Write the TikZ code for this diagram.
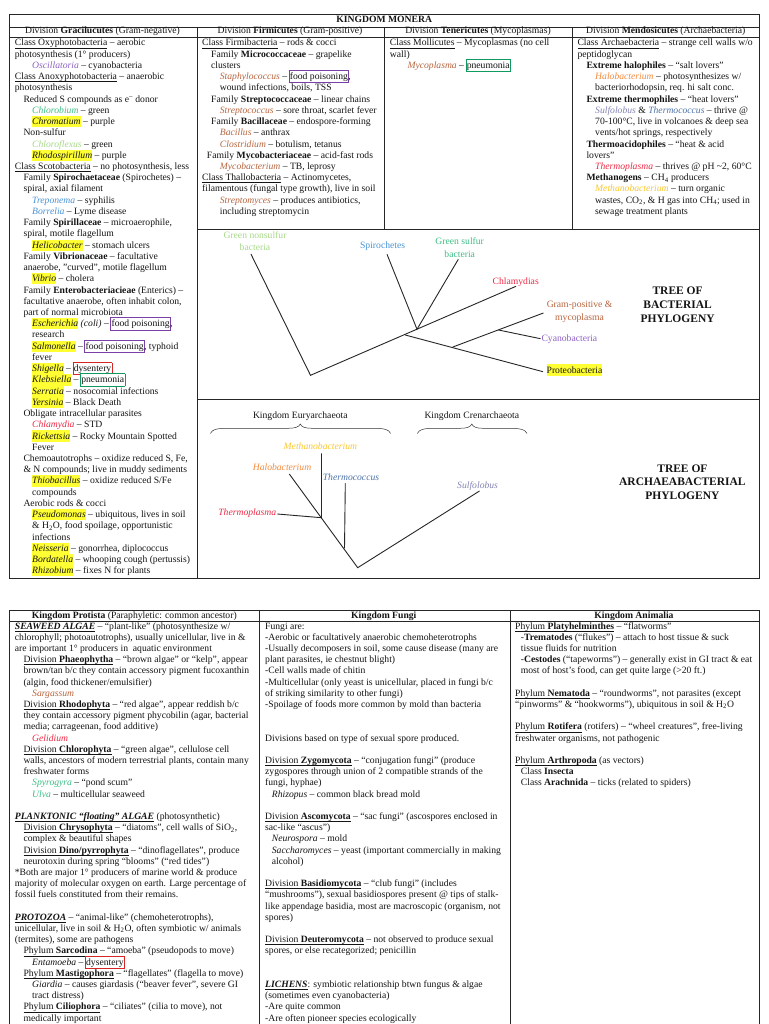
\documentclass[tikz,border=0pt]{standalone}
\usepackage{fontspec}
\setmainfont{Liberation Serif}
\definecolor{hly}{HTML}{FFFF33}
\definecolor{cPurple}{HTML}{8E62C4}
\definecolor{cTeal}{HTML}{3DBE85}
\definecolor{cLime}{HTML}{A9D98A}
\definecolor{cBlue}{HTML}{4A94D6}
\definecolor{cBrown}{HTML}{B8653F}
\definecolor{cRed}{HTML}{EE2A45}
\definecolor{cOrange}{HTML}{F58B3E}
\definecolor{cYellow}{HTML}{FBC72E}
\definecolor{cLav}{HTML}{8585B5}
\definecolor{cSlate}{HTML}{4D74A8}
\definecolor{bxP}{HTML}{7A40A8}
\definecolor{bxG}{HTML}{109A60}
\definecolor{bxR}{HTML}{D52525}
\newcounter{tln}
\newcommand\uln[1]{\setbox0\hbox{#1}\leavevmode\rlap{\rule[-2.4pt]{\wd0}{0.7pt}}\box0{}}
\newcommand\yel[1]{\setbox0\hbox{\textit{#1}}\leavevmode\rlap{\textcolor{hly}{\rule[-2.6pt]{\wd0}{11.2pt}}}\box0{}}
\newcommand\gen[2]{\textcolor{#1}{\textit{#2}}}
\newcommand\bxd[2]{\kern-0.8pt{\fboxsep=0.4pt\fboxrule=0.7pt\fcolorbox{#1}{white}{\rule{0pt}{8.4pt}\rule[-2.4pt]{0pt}{0pt}#2}}\kern-0.8pt}
\newcommand\up[3]{\stepcounter{tln}\node[tl] (t\arabic{tln}) at (#1,{46+#2*11.23}) {#3};}
\newcommand\lo[3]{\stepcounter{tln}\node[tl] (t\arabic{tln}) at (#1,{629+#2*11.2}) {#3};}
\newcommand\ct[3]{\stepcounter{tln}\node[tc] (t\arabic{tln}) at (#1,#2) {#3};}
\tikzset{
 tl/.style={anchor=base west,inner sep=0pt,font=\fontsize{9.65}{11}\selectfont,text=black!92},
 tc/.style={anchor=base,inner sep=0pt,font=\fontsize{9.65}{11}\selectfont,text=black!92},
 tt/.style={anchor=base,inner sep=0pt,font=\fontsize{11.5}{13}\selectfont\bfseries,text=black!92},
 grid line/.style={line width=0.85pt,draw=black!85},
 branch/.style={line width=0.9pt,draw=black!85,line join=miter},
 brace line/.style={line width=0.5pt,draw=black!80}
}
\begin{document}
\begin{tikzpicture}[x=1pt,y=-1pt]
\fill[white] (0,0) rectangle (768,1024);
\useasboundingbox (0,0) rectangle (768,1024);
% upper table
\draw[grid line] (9.5,14.5) rectangle (759,578);
\draw[grid line] (9.5,27) -- (759,27);
\draw[grid line] (9.5,37.5) -- (759,37.5);
\draw[grid line] (197,27) -- (197,578);
\draw[grid line] (384.5,27) -- (384.5,229);
\draw[grid line] (572.3,27) -- (572.3,229);
\draw[grid line] (197,229) -- (759,229);
\draw[grid line] (197,399.5) -- (759,399.5);
% lower table
\draw[grid line] (9.5,1024) -- (9.5,610.3) -- (759.3,610.3) -- (759.3,1024);
\draw[grid line] (9.5,621.3) -- (759.3,621.3);
\draw[grid line] (259.3,610.3) -- (259.3,1024);
\draw[grid line] (510,610.3) -- (510,1024);
% headers
\ct{384.2}{23}{\textbf{KINGDOM MONERA}}
\ct{102.5}{34}{Division \textbf{Gracilucutes} (Gram-negative)}
\ct{290}{34}{Division \textbf{Firmicutes} (Gram-positive)}
\ct{478}{34}{Division \textbf{Tenericutes} (Mycoplasmas)}
\ct{665.7}{34}{Division \textbf{Mendosicutes} (Archaebacteria)}
\ct{134.3}{618}{\textbf{Kingdom Protista} (Paraphyletic: common ancestor)}
\ct{383.8}{618}{\textbf{Kingdom Fungi}}
\ct{634}{618}{\textbf{Kingdom Animalia}}
% Gracilucutes
\up{14.7}{0}{\uln{Class Oxyphotobacteria} – aerobic}
\up{14.7}{1}{photosynthesis (1° producers)}
\up{32}{2}{\gen{cPurple}{Oscillatoria} – cyanobacteria}
\up{14.7}{3}{\uln{Class Anoxyphotobacteria} – anaerobic}
\up{14.7}{4}{photosynthesis}
\up{23.3}{5}{Reduced S compounds as e\textsuperscript{–} donor}
\up{32}{6}{\gen{cTeal}{Chlorobium} – green}
\up{32}{7}{\yel{Chromatium} – purple}
\up{23.3}{8}{Non-sulfur}
\up{32}{9}{\gen{cLime}{Chloroflexus} – green}
\up{32}{10}{\yel{Rhodospirillum} – purple}
\up{14.7}{11}{\uln{Class Scotobacteria} – no photosynthesis, less}
\up{23.3}{12}{Family \textbf{Spirochaetaceae} (Spirochetes) –}
\up{23.3}{13}{spiral, axial filament}
\up{32}{14}{\gen{cBlue}{Treponema} – syphilis}
\up{32}{15}{\gen{cBlue}{Borrelia} – Lyme disease}
\up{23.3}{16}{Family \textbf{Spirillaceae} – microaerophile,}
\up{23.3}{17}{spiral, motile flagellum}
\up{32}{18}{\yel{Helicobacter} – stomach ulcers}
\up{23.3}{19}{Family \textbf{Vibrionaceae} – facultative}
\up{23.3}{20}{anaerobe, "curved", motile flagellum}
\up{32}{21}{\yel{Vibrio} – cholera}
\up{23.3}{22}{Family \textbf{Enterobacteriacieae} (Enterics) –}
\up{23.3}{23}{facultative anaerobe, often inhabit colon,}
\up{23.3}{24}{part of normal microbiota}
\up{32}{25}{\yel{Escherichia} \textit{(coli)} – \bxd{bxP}{food poisoning},}
\up{32}{26}{research}
\up{32}{27}{\yel{Salmonella} – \bxd{bxP}{food poisoning}, typhoid}
\up{32}{28}{fever}
\up{32}{29}{\yel{Shigella} – \bxd{bxR}{dysentery}}
\up{32}{30}{\yel{Klebsiella} – \bxd{bxG}{pneumonia}}
\up{32}{31}{\yel{Serratia} – nosocomial infections}
\up{32}{32}{\yel{Yersinia} – Black Death}
\up{23.3}{33}{Obligate intracellular parasites}
\up{32}{34}{\gen{cRed}{Chlamydia} – STD}
\up{32}{35}{\yel{Rickettsia} – Rocky Mountain Spotted}
\up{32}{36}{Fever}
\up{23.3}{37}{Chemoautotrophs – oxidize reduced S, Fe,}
\up{23.3}{38}{\& N compounds; live in muddy sediments}
\up{32}{39}{\yel{Thiobacillus} – oxidize reduced S/Fe}
\up{32}{40}{compounds}
\up{23.3}{41}{Aerobic rods \& cocci}
\up{32}{42}{\yel{Pseudomonas} – ubiquitous, lives in soil}
\up{32}{43}{\& H\textsubscript{2}O, food spoilage, opportunistic}
\up{32}{44}{infections}
\up{32}{45}{\yel{Neisseria} – gonorrhea, diplococcus}
\up{32}{46}{\yel{Bordatella} – whooping cough (pertussis)}
\up{32}{47}{\yel{Rhizobium} – fixes N for plants}
% Firmicutes
\up{202}{0}{\uln{Class Firmibacteria} – rods \& cocci}
\up{211}{1}{Family \textbf{Micrococcaceae} – grapelike}
\up{211}{2}{clusters}
\up{219.7}{3}{\gen{cBrown}{Staphylococcus} – \bxd{bxP}{food poisoning},}
\up{219.7}{4}{wound infections, boils, TSS}
\up{211}{5}{Family \textbf{Streptococcaceae} – linear chains}
\up{219.7}{6}{\gen{cBrown}{Streptococcus} – sore throat, scarlet fever}
\up{211}{7}{Family \textbf{Bacillaceae} – endospore-forming}
\up{219.7}{8}{\gen{cBrown}{Bacillus} – anthrax}
\up{219.7}{9}{\gen{cBrown}{Clostridium} – botulism, tetanus}
\up{206.7}{10}{Family \textbf{Mycobacteriaceae} – acid-fast rods}
\up{219.7}{11}{\gen{cBrown}{Mycobacterium} – TB, leprosy}
\up{202}{12}{\uln{Class Thallobacteria} – Actinomycetes,}
\up{202}{13}{filamentous (fungal type growth), live in soil}
\up{219.7}{14}{\gen{cBrown}{Streptomyces} – produces antibiotics,}
\up{219.7}{15}{including streptomycin}
% Tenericutes
\up{389.7}{0}{\uln{Class Mollicutes} – Mycoplasmas (no cell}
\up{389.7}{1}{wall)}
\up{407.3}{2}{\gen{cBrown}{Mycoplasma} – \bxd{bxG}{pneumonia}}
% Mendosicutes
\up{577.3}{0}{\uln{Class Archaebacteria} – strange cell walls w/o}
\up{577.3}{1}{peptidoglycan}
\up{586.3}{2}{\textbf{Extreme halophiles} – “salt lovers”}
\up{595}{3}{\gen{cOrange}{Halobacterium} – photosynthesizes w/}
\up{595}{4}{bacteriorhodopsin, req. hi salt conc.}
\up{586.3}{5}{\textbf{Extreme thermophiles} – “heat lovers”}
\up{595}{6}{\gen{cLav}{Sulfolobus} \& \gen{cSlate}{Thermococcus} – thrive @}
\up{595}{7}{70-100°C, live in volcanoes \& deep sea}
\up{595}{8}{vents/hot springs, respectively}
\up{586.3}{9}{\textbf{Thermoacidophiles} – “heat \& acid}
\up{586.3}{10}{lovers”}
\up{595}{11}{\gen{cRed}{Thermoplasma} – thrives @ pH \textasciitilde2, 60°C}
\up{586.3}{12}{\textbf{Methanogens} – CH\textsubscript{4} producers}
\up{595}{13}{\gen{cYellow}{Methanobacterium} – turn organic}
\up{595}{14}{wastes, CO\textsubscript{2}, \& H gas into CH\textsubscript{4}; used in}
\up{595}{15}{sewage treatment plants}
% Bacterial tree
\ct{255}{238.7}{\textcolor{cLime}{Green nonsulfur}}
\ct{255}{250.7}{\textcolor{cLime}{bacteria}}
\ct{382.6}{248.7}{\textcolor{cBlue}{Spirochetes}}
\ct{459.7}{244.7}{\textcolor{cTeal}{Green sulfur}}
\ct{459.7}{257.7}{\textcolor{cTeal}{bacteria}}
\ct{515.7}{284}{\textcolor{cRed}{Chlamydias}}
\ct{579.6}{307.3}{\textcolor{cBrown}{Gram-positive \&}}
\ct{579.6}{320.3}{\textcolor{cBrown}{mycoplasma}}
\ct{569.4}{341.7}{\textcolor{cPurple}{Cyanobacteria}}
\node[tc] (proteo) at (574.5,373.3) {\setbox0\hbox{Proteobacteria}\leavevmode\rlap{\textcolor{hly}{\rule[-2.8pt]{\wd0}{11.8pt}}}\box0{}};
\node[tt] (bt1) at (677.6,294.5) {TREE OF};
\node[tt] (bt2) at (677.6,308) {BACTERIAL};
\node[tt] (bt3) at (677.6,322) {PHYLOGENY};
\coordinate (bRoot) at (310.5,375.3);
\coordinate (bGN) at (250.9,254);
\coordinate (bJ1) at (405.2,335);
\coordinate (bJ2) at (417,329.3);
\coordinate (bChl) at (516,286.3);
\coordinate (bSpi) at (387,254.3);
\coordinate (bGS) at (458.3,259.3);
\coordinate (bPro) at (543,371.7);
\coordinate (bJ3) at (452.8,347);
\coordinate (bGP) at (543.4,313);
\coordinate (bJ4) at (498.5,330);
\coordinate (bCya) at (540.5,338.7);
\draw[branch] (bGN) -- (bRoot) -- (bChl);
\draw[branch] (bSpi) -- (bJ2) -- (bGS);
\draw[branch] (bJ1) -- (bPro);
\draw[branch] (bJ3) -- (bGP);
\draw[branch] (bJ4) -- (bCya);
% Archaeal tree
\ct{300.3}{418.7}{Kingdom Euryarchaeota}
\ct{471.8}{418.7}{Kingdom Crenarchaeota}
\ct{320.4}{449}{\gen{cYellow}{Methanobacterium}}
\ct{282}{470.3}{\gen{cOrange}{Halobacterium}}
\ct{351}{480.3}{\gen{cSlate}{Thermococcus}}
\ct{477.6}{488.7}{\gen{cLav}{Sulfolobus}}
\ct{247.3}{515.7}{\gen{cRed}{Thermoplasma}}
\node[tt] (at1) at (682.4,472) {TREE OF};
\node[tt] (at2) at (682.4,485.5) {ARCHAEABACTERIAL};
\node[tt] (at3) at (682.4,499.5) {PHYLOGENY};
\coordinate (aRoot) at (357.7,567.7);
\coordinate (aSul) at (479.5,491);
\coordinate (aHal) at (289.3,474);
\coordinate (aJ1) at (344.5,548.3);
\coordinate (aThc) at (345.3,483.3);
\coordinate (aJ2) at (321.5,517.7);
\coordinate (aMet) at (321.5,453.3);
\coordinate (aThp) at (277.3,514);
\draw[branch] (aHal) -- (aRoot) -- (aSul);
\draw[branch] (aJ1) -- (aThc);
\draw[branch] (aMet) -- (aJ2) -- (aThp);
% braces
\draw[brace line] (210.4,433.5) .. controls (212,429.5) and (217,428.5) .. (224,428.3) -- (288,428.3) .. controls (295,428.3) and (299,427) .. (300.3,424) .. controls (301.6,427) and (305,428.3) .. (312,428.3) -- (377,428.3) .. controls (384,428.5) and (389,429.5) .. (390.6,433.5);
\draw[brace line] (417.3,433.5) .. controls (419,429.5) and (424,428.5) .. (431,428.3) -- (460,428.3) .. controls (467,428.3) and (470.5,427) .. (471.8,424) .. controls (473.1,427) and (476.5,428.3) .. (483,428.3) -- (513,428.3) .. controls (520,428.5) and (525.4,429.5) .. (527,433.5);
% Protista
\lo{14.7}{0}{\uln{\textbf{\textit{SEAWEED ALGAE}}} – “plant-like” (photosynthesize w/}
\lo{14.7}{1}{chlorophyll; photoautotrophs), usually unicellular, live in \&}
\lo{14.7}{2}{are important 1° producers in\ \ aquatic environment}
\lo{23.3}{3}{\uln{Division \textbf{Phaeophytha}} – “brown algae” or “kelp”, appear}
\lo{23.3}{4}{brown/tan b/c they contain accessory pigment fucoxanthin}
\lo{23.3}{5}{(algin, food thickener/emulsifier)}
\lo{32}{6}{\gen{cBrown}{Sargassum}}
\lo{23.3}{7}{\uln{Division \textbf{Rhodophyta}} – “red algae”, appear reddish b/c}
\lo{23.3}{8}{they contain accessory pigment phycobilin (agar, bacterial}
\lo{23.3}{9}{media; carrageenan, food additive)}
\lo{32}{10}{\gen{cRed}{Gelidium}}
\lo{23.3}{11}{\uln{Division \textbf{Chlorophyta}} – “green algae”, cellulose cell}
\lo{23.3}{12}{walls, ancestors of modern terrestrial plants, contain many}
\lo{23.3}{13}{freshwater forms}
\lo{32}{14}{\gen{cTeal}{Spyrogyra} – “pond scum”}
\lo{32}{15}{\gen{cTeal}{Ulva} – multicellular seaweed}
\lo{14.7}{17}{\uln{\textbf{\textit{PLANKTONIC “floating” ALGAE}}} (photosynthetic)}
\lo{23.3}{18}{\uln{Division \textbf{Chrysophyta}} – “diatoms”, cell walls of SiO\textsubscript{2},}
\lo{23.3}{19}{complex \& beautiful shapes}
\lo{23.3}{20}{\uln{Division \textbf{Dino/pyrrophyta}} – “dinoflagellates”, produce}
\lo{23.3}{21}{neurotoxin during spring “blooms” (“red tides”)}
\lo{14.7}{22}{*Both are major 1° producers of marine world \& produce}
\lo{14.7}{23}{majority of molecular oxygen on earth. Large percentage of}
\lo{14.7}{24}{fossil fuels constituted from their remains.}
\lo{14.7}{26}{\uln{\textbf{\textit{PROTOZOA}}} – “animal-like” (chemoheterotrophs),}
\lo{14.7}{27}{unicellular, live in soil \& H\textsubscript{2}O, often symbiotic w/ animals}
\lo{14.7}{28}{(termites), some are pathogens}
\lo{23.3}{29}{\uln{Phylum \textbf{Sarcodina}} – “amoeba” (pseudopods to move)}
\lo{32}{30}{\textit{Entamoeba} – \bxd{bxR}{dysentery}}
\lo{23.3}{31}{\uln{Phylum \textbf{Mastigophora}} – “flagellates” (flagella to move)}
\lo{32}{32}{\textit{Giardia} – causes giardasis (“beaver fever”, severe GI}
\lo{32}{33}{tract distress)}
\lo{23.3}{34}{\uln{Phylum \textbf{Ciliophora}} – “ciliates” (cilia to move), not}
\lo{23.3}{35}{medically important}
% Fungi
\lo{265}{0}{Fungi are:}
\lo{265}{1}{-Aerobic or facultatively anaerobic chemoheterotrophs}
\lo{265}{2}{-Usually decomposers in soil, some cause disease (many are}
\lo{265}{3}{plant parasites, ie chestnut blight)}
\lo{265}{4}{-Cell walls made of chitin}
\lo{265}{5}{-Multicellular (only yeast is unicellular, placed in fungi b/c}
\lo{265}{6}{of striking similarity to other fungi)}
\lo{265}{7}{-Spoilage of foods more common by mold than bacteria}
\lo{265}{10}{Divisions based on type of sexual spore produced.}
\lo{265}{12}{\uln{Division \textbf{Zygomycota}} – “conjugation fungi” (produce}
\lo{265}{13}{zygospores through union of 2 compatible strands of the}
\lo{265}{14}{fungi, hyphae)}
\lo{271.7}{15}{\textit{Rhizopus} – common black bread mold}
\lo{265}{17}{\uln{Division \textbf{Ascomycota}} – “sac fungi” (ascospores enclosed in}
\lo{265}{18}{sac-like “ascus”)}
\lo{271.7}{19}{\textit{Neurospora} – mold}
\lo{271.7}{20}{\textit{Saccharomyces} – yeast (important commercially in making}
\lo{271.7}{21}{alcohol)}
\lo{265}{23}{\uln{Division \textbf{Basidiomycota}} – “club fungi” (includes}
\lo{265}{24}{“mushrooms”), sexual basidiospores present @ tips of stalk-}
\lo{265}{25}{like appendage basidia, most are macroscopic (organism, not}
\lo{265}{26}{spores)}
\lo{265}{28}{\uln{Division \textbf{Deuteromycota}} – not observed to produce sexual}
\lo{265}{29}{spores, or else recategorized; penicillin}
\lo{265}{32}{\uln{\textbf{\textit{LICHENS}}}: symbiotic relationship btwn fungus \& algae}
\lo{265}{33}{(sometimes even cyanobacteria)}
\lo{265}{34}{-Are quite common}
\lo{265}{35}{-Are often pioneer species ecologically}
% Animalia
\lo{515}{0}{\uln{Phylum \textbf{Platyhelminthes}} – “flatworms”}
\lo{520.7}{1}{-\textbf{Trematodes} (“flukes”) – attach to host tissue \& suck}
\lo{520.7}{2}{tissue fluids for nutrition}
\lo{520.7}{3}{-\textbf{Cestodes} (“tapeworms”) – generally exist in GI tract \& eat}
\lo{520.7}{4}{most of host’s food, can get quite large (>20 ft.)}
\lo{515}{6}{\uln{Phylum \textbf{Nematoda}} – “roundworms”, not parasites (except}
\lo{515}{7}{“pinworms” \& “hookworms”), ubiquitous in soil \& H\textsubscript{2}O}
\lo{515}{9}{\uln{Phylum \textbf{Rotifera}} (rotifers) – “wheel creatures”, free-living}
\lo{515}{10}{freshwater organisms, not pathogenic}
\lo{515}{12}{\uln{Phylum \textbf{Arthropoda}} (as vectors)}
\lo{520.7}{13}{Class \textbf{Insecta}}
\lo{520.7}{14}{Class \textbf{Arachnida} – ticks (related to spiders)}
\end{tikzpicture}
\end{document}
